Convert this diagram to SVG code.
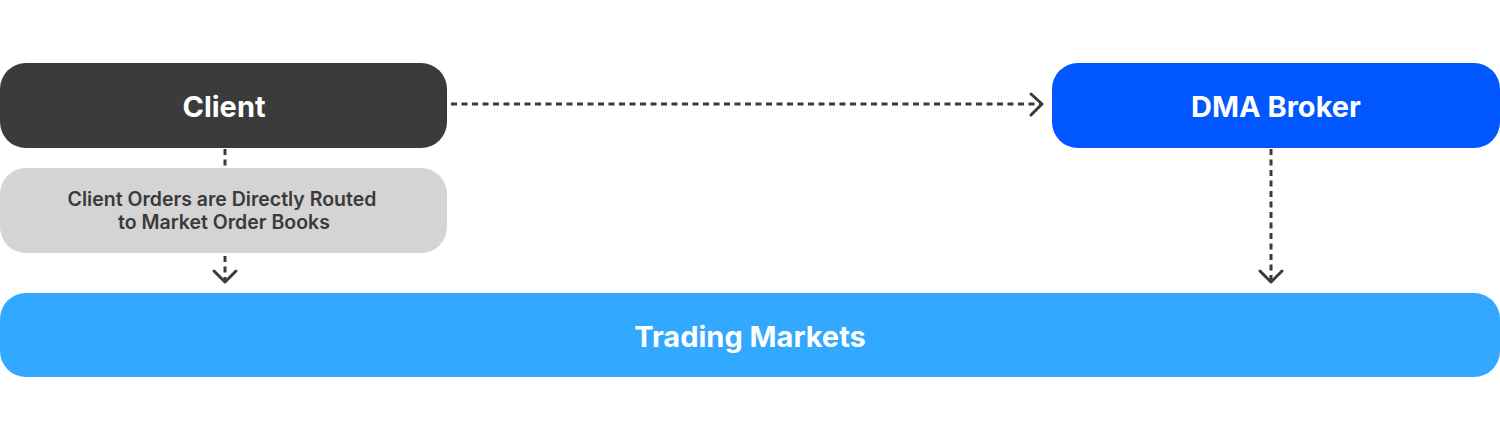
<svg xmlns="http://www.w3.org/2000/svg" width="1500" height="441" viewBox="0 0 1500 441">
<style>
.t{font-family:Inter,"Noto Sans","Liberation Sans",sans-serif;text-anchor:middle;dominant-baseline:central}
.big{font-size:29px;font-weight:700;fill:#ffffff}
.small{font-size:19.5px;font-weight:600;fill:#3a3a3a}
.c{fill:none;stroke:#3a3a3a;stroke-width:3;stroke-dasharray:6 4.5}
.h{fill:none;stroke:#3a3a3a;stroke-width:3;stroke-linecap:round;stroke-linejoin:round}
</style>
<rect width="1500" height="441" fill="#ffffff"/>
<g id="client">
<rect x="0" y="63" width="447" height="85" rx="26" fill="#3b3b3b"/>
<text class="t big" x="224" y="106">Client</text>
</g>
<g id="dma-broker">
<rect x="1052" y="63" width="448" height="85" rx="26" fill="#0057ff"/>
<text class="t big" x="1276" y="106">DMA Broker</text>
</g>
<g id="note">
<rect x="0" y="168" width="447" height="85" rx="26" fill="#d4d4d4"/>
<text class="t small" x="222" y="199">Client Orders are Directly Routed</text>
<text class="t small" x="224" y="222">to Market Order Books</text>
</g>
<g id="trading-markets">
<rect x="0" y="293" width="1500" height="84" rx="26" fill="#33a8ff"/>
<text class="t big" x="750" y="336">Trading Markets</text>
</g>
<g id="connectors">
<line class="c" x1="451" y1="104" x2="1041" y2="104"/>
<polyline class="h" points="1031,94 1042,104 1031,115"/>
<line class="c" x1="225" y1="149" x2="225" y2="168"/>
<line class="c" x1="225" y1="256" x2="225" y2="281"/>
<polyline class="h" points="214,271 225,282 236,271"/>
<line class="c" x1="1271" y1="149" x2="1271" y2="281"/>
<polyline class="h" points="1260,271 1271,282 1282,271"/>
</g>
</svg>
